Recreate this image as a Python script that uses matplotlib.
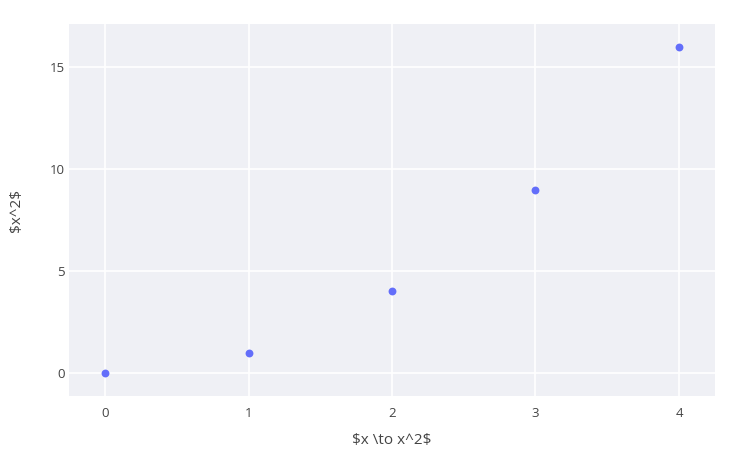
import matplotlib.pyplot as plt

x = [0, 1, 2, 3, 4]
y = [0, 1, 4, 9, 16]
xticks = [0, 1, 2, 3, 4]
yticks = [0, 5, 10, 15]

plt.rcParams['font.family'] = ['Open Sans', 'DejaVu Sans']

fig = plt.figure(figsize=(7.46, 4.65), dpi=100)
ax = fig.add_axes([69 / 746, 1 - 396 / 465, 646 / 746, 372 / 465])
ax.set_facecolor('#eff0f5')
for s in ax.spines.values():
    s.set_visible(False)

ax.scatter(x, y, s=32, color='#636efa', zorder=3, linewidths=0)

ax.set_xlim(-0.251, 4.251)
ax.set_ylim(-1.129, 17.129)
ax.set_xticks(xticks)
ax.set_yticks(yticks)
ax.grid(True, color='white', linewidth=1.2)
ax.set_axisbelow(True)
ax.tick_params(length=0, labelsize=9.5, colors='#444444', pad=8)
ax.tick_params(axis='y', pad=3)

fig.text(392 / 746, 1 - 440 / 465, r'$x \to x^2$', ha='center', va='center',
         fontsize=11, color='#444444', parse_math=False)
fig.text(17 / 746, 1 - 210 / 465, r'$x^2$', ha='center', va='center',
         rotation=90, fontsize=11, color='#444444', parse_math=False)

fig.savefig('out.png', dpi=100)
